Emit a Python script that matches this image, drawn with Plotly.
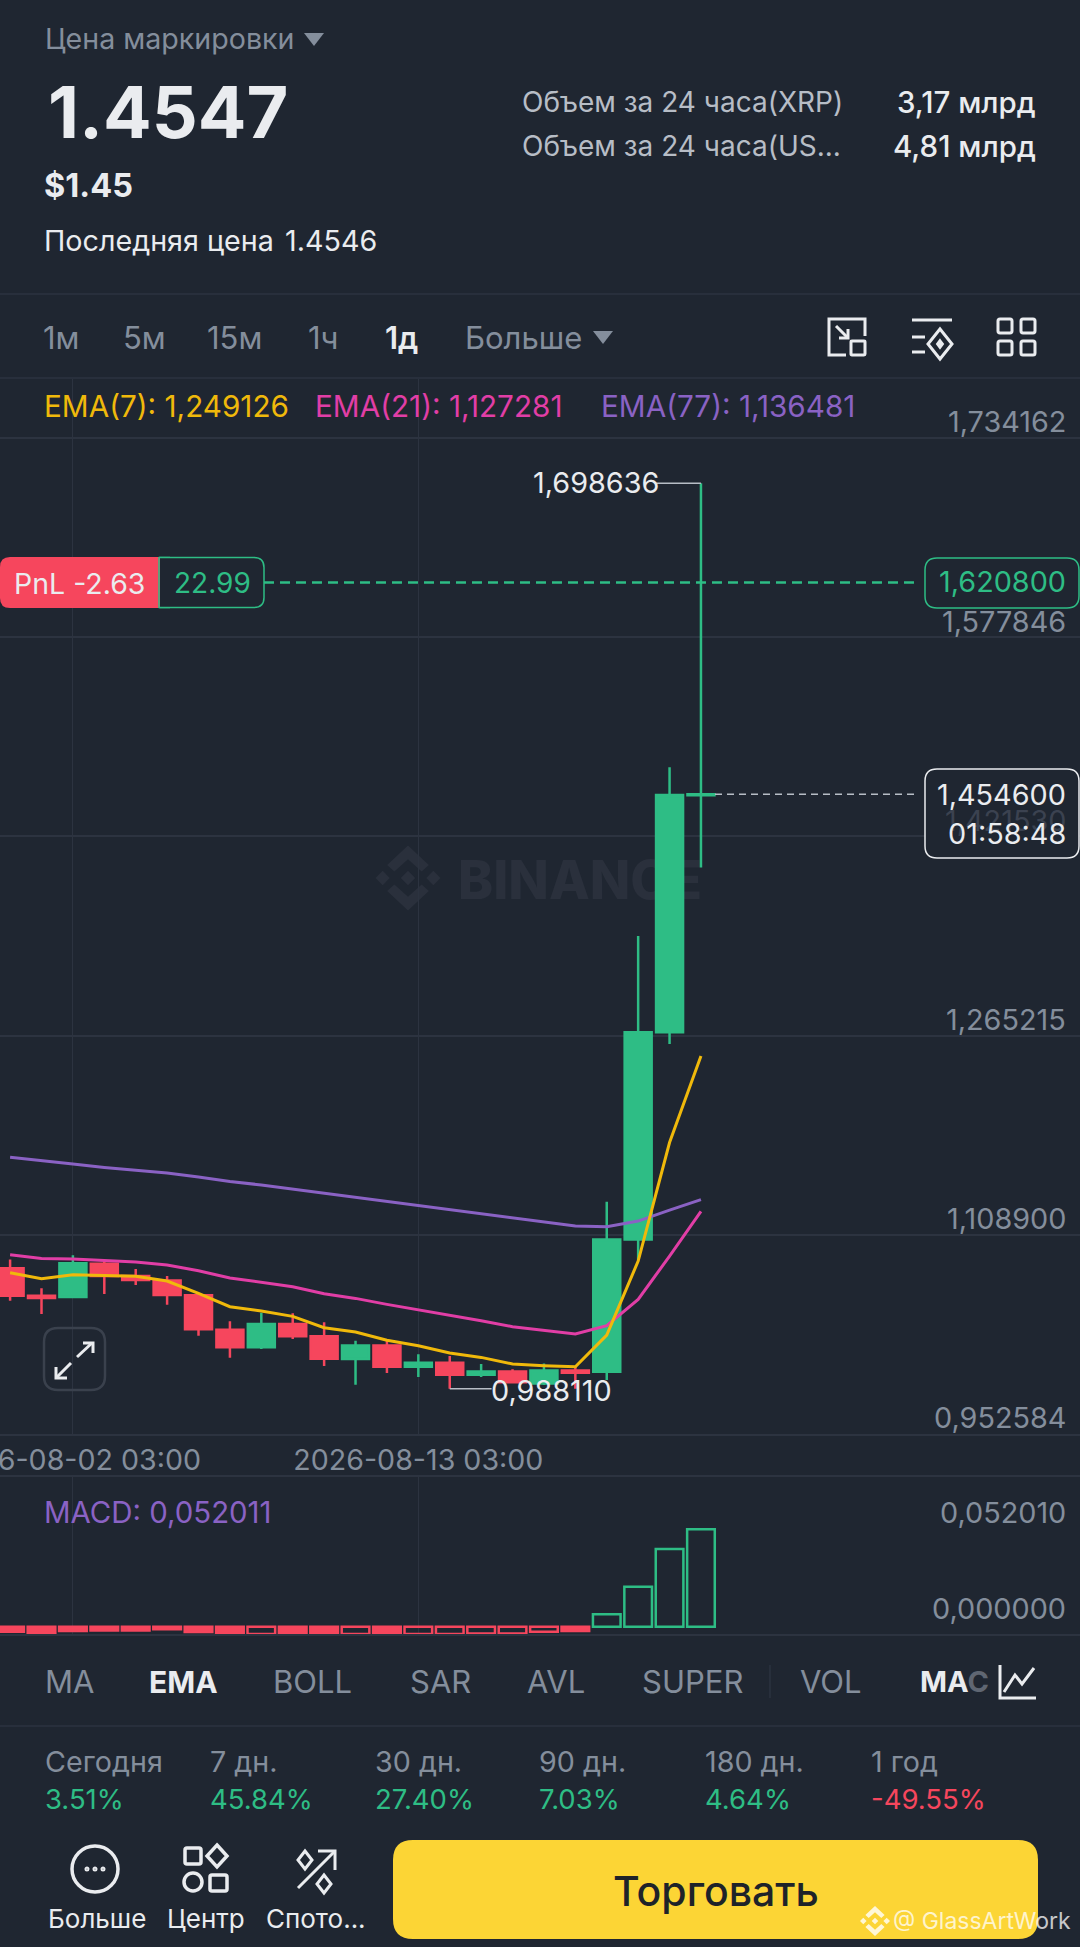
import plotly.graph_objects as go

W, H = 1080, 1947
BG = "#1f2631"
GRID = "#2c3340"
GREEN = "#2ebd85"
RED = "#f6465d"
GRAY = "#848e9c"
WHITE = "#eaecef"
C_EMA7 = "#f0b90b"
C_EMA21 = "#e13ea6"
C_EMA77 = "#8a62c4"
FONT = "Inter"
NUM = 28.8

dates = ["2026-07-31 03:00", "2026-08-01 03:00", "2026-08-02 03:00", "2026-08-03 03:00", "2026-08-04 03:00",
         "2026-08-05 03:00", "2026-08-06 03:00", "2026-08-07 03:00", "2026-08-08 03:00", "2026-08-09 03:00",
         "2026-08-10 03:00", "2026-08-11 03:00", "2026-08-12 03:00", "2026-08-13 03:00", "2026-08-14 03:00",
         "2026-08-15 03:00", "2026-08-16 03:00", "2026-08-17 03:00", "2026-08-18 03:00", "2026-08-19 03:00",
         "2026-08-20 03:00", "2026-08-21 03:00", "2026-08-22 03:00"]
opens = [1.0826, 1.0611, 1.0601, 1.0862, 1.0765, 1.0731, 1.0614, 1.0344, 1.0206, 1.0389, 1.0292, 1.0114,
         1.0221, 1.0054, 1.0085, 0.9991, 1.0017, 0.9923, 1.0025, 1.0015, 1.1053, 1.2678, 1.4538]
highs = [1.0896, 1.0669, 1.0928, 1.0891, 1.0820, 1.0765, 1.0614, 1.0410, 1.0478, 1.0473, 1.0402, 1.0258,
         1.0258, 1.0151, 1.0138, 1.0075, 1.0033, 1.0080, 1.0054, 1.1349, 1.3434, 1.4757, 1.698636]
lows = [1.0572, 1.0467, 1.0601, 1.0624, 1.0695, 1.0541, 1.0297, 1.0125, 1.0193, 1.0271, 1.0059, 0.9913,
        1.0004, 0.9973, 0.98811, 0.9973, 0.9923, 0.9910, 0.9881, 0.9949, 1.0891, 1.2586, 1.3971]
closes = [1.0611, 1.0593, 1.0865, 1.0765, 1.0734, 1.0616, 1.0347, 1.0206, 1.0389, 1.0292, 1.0117, 1.0221,
          1.0054, 1.0085, 0.9991, 1.0017, 0.9931, 1.0025, 1.0007, 1.1053, 1.2678, 1.4541, 1.4546]
ema7 = [1.0792, 1.0745, 1.0776, 1.0771, 1.0763, 1.0726, 1.0629, 1.0525, 1.0491, 1.0449, 1.0360, 1.0326,
        1.0261, 1.0219, 1.0161, 1.0127, 1.0075, 1.0062, 1.0054, 1.0302, 1.0883, 1.1813, 1.249126]
ema21 = [1.0933, 1.0904, 1.0899, 1.0888, 1.0875, 1.0852, 1.0807, 1.0750, 1.0718, 1.0682, 1.0627, 1.0590,
         1.0543, 1.0501, 1.0457, 1.0415, 1.0368, 1.0339, 1.0310, 1.0376, 1.0582, 1.0922, 1.127281]
ema77 = [1.1697, 1.1668, 1.1644, 1.1618, 1.1597, 1.1574, 1.1542, 1.1508, 1.1480, 1.1448, 1.1417, 1.1385,
         1.1354, 1.1320, 1.1286, 1.1254, 1.1221, 1.1189, 1.1158, 1.1153, 1.1197, 1.1283, 1.136481]
macd_hist = [-0.0027, -0.0032, -0.0023, -0.0021, -0.0021, -0.0014, -0.0028, -0.0039, -0.0039, -0.0039,
             -0.0039, -0.0039, -0.0039, -0.0039, -0.0039, -0.0036, -0.0036, -0.0027, -0.0023,
             0.0066, 0.02135, 0.0415, 0.05201]
macd_hollow = [0, 0, 0, 0, 0, 0, 0, 0, 1, 0, 0, 1, 0, 1, 1, 1, 1, 1, 0, 1, 1, 1, 1]

price_ticks = [0.952584, 1.108900, 1.265215, 1.421530, 1.577846, 1.734162]
price_labels = ["0,952584", "1,108900", "1,265215", "1,421530", "1,577846", "1,734162"]
date_ticks = ["2026-08-02 03:00", "2026-08-13 03:00"]
stat_names = ["Сегодня", "7 дн.", "30 дн.", "90 дн.", "180 дн.", "1 год"]
stat_values = ["3.51%", "45.84%", "27.40%", "7.03%", "4.64%", "-49.55%"]
timeframes = ["1м", "5м", "15м", "1ч", "1д", "Больше"]
tabs = ["MA", "EMA", "BOLL", "SAR", "AVL", "SUPER", "VOL"]

annotations, shapes = [], []


def fx(x):
    return round(x / W, 5)


def fy(y):
    return round(1 - y / H, 5)


def txt(text, x, y, size, color=WHITE, anchor="left", weight=400):
    annotations.append(dict(text=text, x=fx(x), y=fy(y), xref="paper", yref="paper", showarrow=False,
                            xanchor=anchor, yanchor="middle", borderpad=0, borderwidth=0,
                            font=dict(family=FONT, size=size, color=color, weight=weight)))


def path(pts, close=False):
    s = ""
    for i, (x, y) in enumerate(pts):
        s += ("M" if i == 0 else "L") + f"{fx(x)},{fy(y)}"
    return s + ("Z" if close else "")


def rrpath(x0, y0, x1, y1, r):
    def P(x, y):
        return f"{fx(x)},{fy(y)}"
    return ("M" + P(x0 + r, y0) + "L" + P(x1 - r, y0) + "Q" + P(x1, y0) + " " + P(x1, y0 + r) +
            "L" + P(x1, y1 - r) + "Q" + P(x1, y1) + " " + P(x1 - r, y1) +
            "L" + P(x0 + r, y1) + "Q" + P(x0, y1) + " " + P(x0, y1 - r) +
            "L" + P(x0, y0 + r) + "Q" + P(x0, y0) + " " + P(x0 + r, y0) + "Z")


def add_path(d, line=None, width=0, fill="rgba(0,0,0,0)", layer="above"):
    shapes.append(dict(type="path", path=d, xref="paper", yref="paper", layer=layer, fillcolor=fill,
                       line=dict(color=line or "rgba(0,0,0,0)", width=width)))


def stroke(pts, color=WHITE, width=2.5, close=False):
    add_path(path(pts, close), color, width)


def rr(x0, y0, x1, y1, r, color=WHITE, width=2.5, fill="rgba(0,0,0,0)"):
    add_path(rrpath(x0, y0, x1, y1, r), color, width, fill)


def circle(cx, cy, r, color=WHITE, width=2.5):
    shapes.append(dict(type="circle", xref="paper", yref="paper", x0=fx(cx - r), x1=fx(cx + r),
                       y0=fy(cy + r), y1=fy(cy - r), line=dict(color=color, width=width)))


def diamond(cx, cy, rx, ry, color=WHITE, width=2.5, fill="rgba(0,0,0,0)", layer="above"):
    add_path(path([(cx, cy - ry), (cx + rx, cy), (cx, cy + ry), (cx - rx, cy)], True), color, width, fill, layer)


def tri(x0, x1, y0, y1, color=GRAY):
    add_path(path([(x0, y0), (x1, y0), ((x0 + x1) / 2, y1)], True), None, 0, color)


def bnb(cx, cy, r, color, layer="above"):
    top = [(0, -1), (.64, -.40), (.42, -.2), (0, -.58), (-.42, -.2), (-.64, -.40)]
    add_path(path([(cx + a * r, cy + b * r) for a, b in top], True), None, 0, color, layer)
    add_path(path([(cx + a * r, cy - b * r) for a, b in top], True), None, 0, color, layer)
    for dx, rad in [(0, .22), (-.78, .22), (.78, .22)]:
        diamond(cx + dx * r, cy, rad * r, rad * r, "rgba(0,0,0,0)", 0, color, layer)


# ---------- page header ----------
txt("Цена маркировки", 45, 39, 28.6, GRAY)
tri(304, 324, 33, 46)
txt("1.4547", 48, 112, 72, WHITE, weight=700)
txt("$1.45", 44, 186, 32.5, WHITE, weight=700)
txt("Последняя цена", 44, 241, 28.7, WHITE)
txt("1.4546", 285, 241, 28.7, WHITE)
txt("Объем за 24 часа(XRP)", 522, 102, 28, "#b7bdc6")
txt("Объем за 24 часа(US...", 522, 146, 28, "#b7bdc6")
txt("3,17 млрд", 1036, 102, 29.5, WHITE, "right", 500)
txt("4,81 млрд", 1036, 146, 29.5, WHITE, "right", 500)
stroke([(0, 294), (W, 294)], GRID, 1.5)
stroke([(0, 378), (W, 378)], GRID, 1.5)

# timeframes
for t, x in zip(timeframes, [43, 123, 207, 308, 385, 465]):
    on = t == "1д"
    txt(t, x, 337, 31, WHITE if on else GRAY, weight=600 if on else 400)
tri(593, 613, 331, 344)

# toolbar icons
add_path(path([(846, 355), (829, 355), (829, 319), (865, 319), (865, 336)]), WHITE, 3)
rr(851, 341, 865, 355, 1, WHITE, 3)
stroke([(836, 326), (848, 338)], WHITE, 3)
stroke([(848, 329), (848, 338), (839, 338)], WHITE, 3)
stroke([(912, 320), (952, 320)], WHITE, 3)
stroke([(912, 337), (925, 337)], WHITE, 3)
stroke([(912, 352), (925, 352)], WHITE, 3)
diamond(940, 344, 12, 15, WHITE, 3)
diamond(940, 344, 3, 4, WHITE, 2, WHITE)
for a, b in [(998, 319), (1021, 319), (998, 341), (1021, 341)]:
    rr(a, b, a + 14, b + 14, 2, WHITE, 3)

# EMA legend
txt("EMA(7): 1,249126", 44, 406, 29.7, C_EMA7)
txt("EMA(21): 1,127281", 315, 406, 29.7, C_EMA21)
txt("EMA(77): 1,136481", 601, 406, 29.7, C_EMA77)

# ---------- price axis labels ----------
bnb(408, 878, 32.5, "#2a303c", "below")
shapes.append(dict(type="rect", xref="paper", yref="paper", x0=fx(450), x1=fx(710), y0=fy(900), y1=fy(856),
                   layer="below", line=dict(width=0), fillcolor="rgba(0,0,0,0)",
                   label=dict(text="BINANCE", textposition="middle center",
                              font=dict(family=FONT, size=53, color="#2a303c", weight=800))))

add_path(rrpath(925, 769, 1079, 858, 12), WHITE, 1.5, BG)
rr(925, 558, 1079, 608, 12, GREEN, 1.5, BG)

for v, lab in zip(price_ticks, price_labels):
    y = 438 + (1.734162 - v) * 1274.3
    txt(lab, 1066, y - 16, NUM, "#3b4250" if lab == "1,421530" else GRAY, "right")

txt("1,620800", 1066, 582, NUM, GREEN, "right")
txt("1,454600", 1066, 795, NUM, WHITE, "right")
txt("01:58:48", 1066, 834, NUM, WHITE, "right")

shapes.append(dict(type="line", xref="paper", yref="y", x0=fx(264), x1=fx(919), y0=1.6208, y1=1.6208,
                   line=dict(color=GREEN, width=2.5, dash="10px,6px")))
shapes.append(dict(type="line", xref="paper", yref="y", x0=fx(715), x1=fx(919), y0=1.4546, y1=1.4546,
                   line=dict(color="#b7bdc6", width=1.5, dash="7px,5px")))

# PnL tag
rr(150, 557.5, 264, 607.5, 10, GREEN, 1.5, BG)
add_path(rrpath(0, 557, 170, 608, 10), None, 0, RED)
add_path(path([(160, 557), (170, 557), (170, 608), (160, 608)], True), None, 0, BG)
stroke([(159, 557.5), (170, 557.5)], GREEN, 1.5)
stroke([(159, 607.5), (170, 607.5)], GREEN, 1.5)
stroke([(159, 557), (159, 608)], GREEN, 1.5)
txt("PnL -2.63", 14, 583, 28.5, WHITE, weight=400)
txt("22.99", 212, 583, 28, GREEN, "center")

# High/low markers
shapes.append(dict(type="line", xref="x", yref="y", x0="2026-08-20 17:00", x1="2026-08-22 03:00",
                   y0=1.698636, y1=1.698636, line=dict(color="#b7bdc6", width=1.5)))
shapes.append(dict(type="line", xref="x", yref="y", x0="2026-08-14 03:00", x1="2026-08-15 11:00",
                   y0=0.98811, y1=0.98811, line=dict(color="#b7bdc6", width=1.5)))
txt("1,698636", 659, 483, NUM, WHITE, "right")
txt("0,988110", 491, 1390, NUM, WHITE)

# expand button
rr(44, 1328, 105, 1390, 14, "#3a414d", 2.5)
stroke([(77, 1357), (92, 1343)], WHITE, 3)
stroke([(83, 1343), (93, 1343), (93, 1353)], WHITE, 3)
stroke([(71, 1363), (57, 1377)], WHITE, 3)
stroke([(56, 1367), (56, 1378), (67, 1378)], WHITE, 3)

# MACD panel text
txt("MACD: 0,052011", 44, 1512, 29.4, C_EMA77)
txt("0,052010", 1066, 1512, NUM, GRAY, "right")
txt("0,000000", 1066, 1608, NUM, GRAY, "right")

# ---------- tabs ----------
for t, x in zip(tabs, [45, 149, 273, 410, 527, 642, 800]):
    on = t == "EMA"
    txt(t, x, 1682, 30 if on else 31, WHITE if on else GRAY, weight=700 if on else 400)
txt("MA<span style='color:#5f6672'>C</span>", 920, 1682, 29, WHITE, weight=700)
stroke([(770, 1665), (770, 1698)], GRID, 1.5)
stroke([(1000, 1665), (1000, 1698), (1036, 1698)], WHITE, 3)
stroke([(1004, 1692), (1015, 1675), (1022, 1684), (1034, 1668)], WHITE, 3)
stroke([(0, 1726), (W, 1726)], GRID, 1.5)

# ---------- stats ----------
for name, val, x in zip(stat_names, stat_values, [45, 210, 375, 539, 705, 871]):
    txt(name, x, 1761, 28.7, GRAY)
    txt(val, x, 1799, 27.5, RED if val.startswith("-") else GREEN)

# ---------- bottom bar ----------
circle(95, 1869, 23, WHITE, 3.5)
for dx in (-8, 0, 8):
    circle(95 + dx, 1869, 1.5, WHITE, 2)
rr(185, 1848, 201, 1864, 2, WHITE, 3.5)
diamond(217, 1856, 10, 11, WHITE, 3.5)
circle(193, 1882, 9, WHITE, 3.5)
rr(210, 1875, 227, 1891, 2, WHITE, 3.5)
stroke([(298, 1888), (335, 1851)], WHITE, 3)
stroke([(318, 1851), (335, 1851), (335, 1870)], WHITE, 3)
diamond(305, 1860, 7, 9, WHITE, 3)
diamond(324, 1884, 7, 9, WHITE, 3)
txt("Больше", 97, 1918, 26, WHITE, "center")
txt("Центр", 206, 1918, 26, WHITE, "center")
txt("Спото...", 316, 1918, 26, WHITE, "center")
add_path(rrpath(393, 1840, 1038, 1939, 20), None, 0, "#fcd535")
txt("Торговать", 716, 1891, 41, "#1e2329", "center", 500)
bnb(875, 1921, 15, "rgba(255,255,255,.8)")
txt("@ GlassArtWork", 893, 1921, 23, "rgba(255,255,255,.75)")

# ---------- figure ----------
fig = go.Figure()
fig.add_trace(go.Candlestick(x=dates, open=opens, high=highs, low=lows, close=closes, xaxis="x", yaxis="y",
                             increasing=dict(line=dict(color=GREEN, width=2.5), fillcolor=GREEN),
                             decreasing=dict(line=dict(color=RED, width=2.5), fillcolor=RED),
                             whiskerwidth=0, hoverinfo="skip", showlegend=False))
for vals, col in [(ema77, C_EMA77), (ema21, C_EMA21), (ema7, C_EMA7)]:
    fig.add_trace(go.Scatter(x=dates, y=vals, mode="lines", line=dict(color=col, width=3), xaxis="x", yaxis="y",
                             hoverinfo="skip", showlegend=False))
bar_line = [GREEN if v > 0 else RED for v in macd_hist]
bar_fill = ["rgba(0,0,0,0)" if h else c for h, c in zip(macd_hollow, bar_line)]
fig.add_trace(go.Bar(x=dates, y=macd_hist, xaxis="x2", yaxis="y2", hoverinfo="skip", showlegend=False,
                     marker=dict(color=bar_fill, line=dict(color=bar_line, width=2.5))))

x_range = ["2026-07-30 19:17", "2026-09-03 04:41"]
fig.update_layout(
    width=W, height=H, margin=dict(l=0, r=0, t=0, b=0, pad=0, autoexpand=False), paper_bgcolor=BG, plot_bgcolor=BG,
    font=dict(family=FONT), showlegend=False, boxgap=0.14, boxgroupgap=0, bargap=0.12, dragmode=False,
    annotations=annotations, shapes=shapes,
    xaxis=dict(domain=[0, 1], range=x_range, type="date", anchor="y", tickmode="array", tickvals=date_ticks,
               ticktext=date_ticks, ticklabeloverflow="allow", tickfont=dict(family=FONT, size=28.6, color=GRAY),
               showgrid=True, gridcolor=GRID, gridwidth=1, ticks="", showline=True, linecolor=GRID, linewidth=1.5,
               zeroline=False, rangeslider=dict(visible=False), ticklabelstandoff=0, automargin=False),
    yaxis=dict(domain=[fy(1434), fy(379)], range=[0.952584, 1.780462], anchor="x", tickmode="array",
               tickvals=price_ticks, showticklabels=False, showgrid=True, gridcolor=GRID, gridwidth=1.5,
               zeroline=False, ticks="", automargin=False),
    xaxis2=dict(domain=[0, 1], matches="x", type="date", anchor="y2", tickmode="array", tickvals=date_ticks,
                showticklabels=False, showgrid=True, gridcolor=GRID, gridwidth=1, ticks="", showline=True,
                mirror=True, linecolor=GRID, linewidth=1.5, zeroline=False, automargin=False),
    yaxis2=dict(domain=[fy(1634), fy(1477)], range=[-0.0039, 0.0799], anchor="x2", showticklabels=False,
                showgrid=False, zeroline=False, ticks="", automargin=False),
)
fig.write_html("out.html", config=dict(displayModeBar=False, responsive=False),
               post_script="document.body.style.margin='0';document.body.style.background='%s';" % BG)
